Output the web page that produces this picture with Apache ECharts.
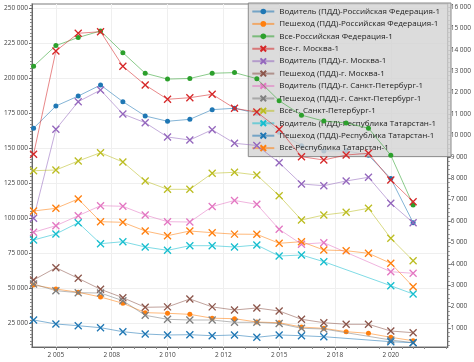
<!DOCTYPE html>
<html><head><meta charset="utf-8">
<script src="https://cdn.jsdelivr.net/npm/echarts@6/dist/echarts.min.js"></script>
<style>html,body{margin:0;padding:0;background:#fff}#c{width:474px;height:362px}</style>
</head><body><div id="c"></div>
<script>
// ---- data ----
const years = [2004,2005,2006,2007,2008,2009,2010,2011,2012,2013,2014,2015,2016,2017,2018,2019,2020,2021];
const xTickValues = [2005, 2007.5, 2010, 2012.5, 2015, 2017.5, 2020];
const leftTickValues = [25000,50000,75000,100000,125000,150000,175000,200000,225000,250000];
const rightTickValues = [1000,2000,3000,4000,5000,6000,7000,8000,9000,10000,11000,12000,13000,14000,15000,16000];

const seriesNames = [
  'Водитель (ПДД)-Российская Федерация-1',
  'Пешеход (ПДД)-Российская Федерация-1',
  'Все-Российская Федерация-1',
  'Все-г. Москва-1',
  'Водитель (ПДД)-г. Москва-1',
  'Пешеход (ПДД)-г. Москва-1',
  'Водитель (ПДД)-г. Санкт-Петербург-1',
  'Пешеход (ПДД)-г. Санкт-Петербург-1',
  'Все-г. Санкт-Петербург-1',
  'Водитель (ПДД)-Республика Татарстан-1',
  'Пешеход (ПДД)-Республика Татарстан-1',
  'Все-Республика Татарстан-1'
];
// left axis (Russian Federation)
const driverRF     = [164300,180200,187300,195200,183300,173100,169300,170700,177600,178600,175000,161500,151900,148100,148300,145000,128400,96900];
const pedestrianRF = [52350,49500,47150,43800,39300,32600,32150,31400,28650,28300,25900,25400,22300,21400,19000,17850,15000,12550];
const allRF        = [208558,223342,229140,233809,218322,203603,199431,199868,203597,204068,199720,184000,173694,169432,168099,164358,145073,109500];
// right axis (regions)
const allMoscow        = [9117,13944,14771,14846,13229,12355,11687,11762,11920,11266,11090,10285,9005,8850,9084,9163,7916,6902];
const driverMoscow     = [6126,10285,11575,12121,11000,10593,9925,9785,10266,9631,9530,8724,7729,7649,7869,8042,6827,5920];
const pedestrianMoscow = [3243,3817,3322,2808,2416,1967,1986,2355,1986,1841,1934,1794,1406,1247,1173,1173,859,780];
const driverSPb        = [5472,5780,6247,6715,6687,6280,5967,5953,6677,6958,6780,5612,4916,4986,null,null,3631,3556];
const pedestrianSPb    = [3056,2743,2649,2635,2275,1593,1406,1373,1373,1266,1266,1210,986,953,null,null,439,313];
const allSPb           = [8350,8383,8804,9192,8757,7869,7481,7481,8229,8275,8149,7182,6047,6280,6406,6593,5191,4144];
const driverTat        = [5112,5392,5920,4939,5032,4785,4630,4846,4846,4785,4878,4364,4411,4098,null,null,2976,2588];
const pedestrianTat    = [1374,1187,1107,1014,827,719,673,687,640,673,565,673,640,593,null,null,360,313];
const allTat           = [6467,6593,7028,5967,5939,5532,5313,5532,5453,5386,5378,4958,5032,4645,4612,4490,4023,2930];

const seriesValues = [driverRF,pedestrianRF,allRF,allMoscow,driverMoscow,pedestrianMoscow,driverSPb,pedestrianSPb,allSPb,driverTat,pedestrianTat,allTat];
const seriesAxis   = [0,0,0,1,1,1,1,1,1,1,1,1];
const seriesColors = ['#1f77b4','#ff7f0e','#2ca02c','#d62728','#9467bd','#8c564b','#e377c2','#7f7f7f','#bcbd22','#17becf','#1f77b4','#ff7f0e'];
const seriesMarker = ['circle','circle','circle','x','x','x','x','x','x','x','x','x'];

// ---- helpers ----
function thousands(n){ return String(n).replace(/\B(?=(\d{3})+(?!\d))/g, ' '); }
function roundHalfEven(v){
  const f = Math.floor(v);
  if (Math.abs(v - f - 0.5) < 1e-9) return (f % 2 === 0) ? f : f + 1;
  return Math.round(v);
}
const X_PATH = 'path://M0,0L10,10M10,0L0,10';
const FONT = 'Open Sans';

const series = seriesNames.map((name, i) => {
  const c = seriesColors[i];
  const isX = seriesMarker[i] === 'x';
  return {
    name, type: 'line', yAxisIndex: seriesAxis[i],
    data: years.map((y, k) => [y, seriesValues[i][k]]).filter(d => d[1] != null),
    color: c,
    symbol: isX ? X_PATH : 'circle',
    symbolSize: isX ? 7 : 5,
    showAllSymbol: true,
    lineStyle: { color: c, width: 1, opacity: 0.55 },
    itemStyle: isX ? { color: 'rgba(0,0,0,0)', borderColor: c, borderWidth: 1.3 } : { color: c, borderWidth: 0 },
    emphasis: { disabled: true },
    animation: false,
    z: 2 + i
  };
});

const axisLabelStyle = { fontSize: 6.5, fontFamily: FONT, color: '#444' };

const option = {
  animation: false,
  grid: { left: 32, right: 23, top: 4, bottom: 15, show: true, borderColor: '#a8a8a8', borderWidth: 1.5, backgroundColor: '#fff' },
  xAxis: {
    type: 'value', min: 2003.93, max: 2022.55,
    axisLine: { show: true, onZero: false, lineStyle: { color: '#666', width: 1 } },
    axisTick: { show: true, inside: false, length: 3, customValues: xTickValues, lineStyle: { color: '#666' } },
    minorTick: { show: true, splitNumber: 6, length: 2, lineStyle: { color: '#888' } },
    axisLabel: { ...axisLabelStyle, margin: 5, customValues: xTickValues, formatter: v => thousands(roundHalfEven(v)) },
    splitLine: { show: true, lineStyle: { color: '#efefef', width: 1 } }
  },
  yAxis: [
    {
      type: 'value', position: 'left', min: 8070, max: 253070,
      axisLine: { show: true, lineStyle: { color: '#666', width: 1 } },
      axisTick: { show: true, length: 3, customValues: leftTickValues, lineStyle: { color: '#666' } },
      minorTick: { show: true, splitNumber: 20, length: 2, lineStyle: { color: '#888' } },
      axisLabel: { ...axisLabelStyle, margin: 4, customValues: leftTickValues, formatter: v => thousands(v) },
      splitLine: { show: true, lineStyle: { color: '#efefef', width: 1 } }
    },
    {
      type: 'value', position: 'right', min: 112, max: 16140,
      axisLine: { show: true, lineStyle: { color: '#666', width: 1 } },
      axisTick: { show: true, length: 3, customValues: rightTickValues, lineStyle: { color: '#666' } },
      minorTick: { show: true, splitNumber: 15, length: 2, lineStyle: { color: '#888' } },
      axisLabel: { ...axisLabelStyle, margin: 3, customValues: rightTickValues, formatter: v => thousands(v) },
      splitLine: { show: false }
    }
  ],
  legend: {
    orient: 'vertical', right: 23, top: 3,
    padding: [3.5, 11, 3.5, 3],
    itemWidth: 22, itemHeight: 7, itemGap: 2.42,
    backgroundColor: 'rgba(212,212,212,0.82)', borderColor: '#8a8a8a', borderWidth: 1,
    textStyle: { fontSize: 8, lineHeight: 10, fontFamily: FONT, color: '#222' },
    data: seriesNames,
    selectedMode: false
  },
  series
};
const chart = echarts.init(document.getElementById('c'), null, { renderer: 'canvas' });
chart.setOption(option);
</script>
</body></html>
